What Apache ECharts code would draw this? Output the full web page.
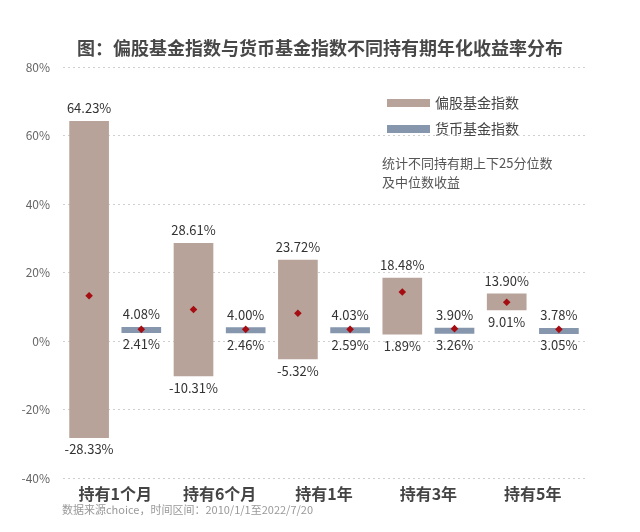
<!DOCTYPE html>
<html>
<head>
<meta charset="utf-8">
<script src="https://cdn.jsdelivr.net/npm/echarts@6/dist/echarts.min.js"></script>
<style>
  html, body { margin: 0; padding: 0; background: #fff; }
  #main { width: 640px; height: 532px; }
</style>
</head>
<body>
<div id="main"></div>
<script>
var categories = ['持有1个月', '持有6个月', '持有1年', '持有3年', '持有5年'];
// 上下25分位数 + 中位数
var equityLow = [-28.33, -10.31, -5.32, 1.89, 9.01];
var equityHigh = [64.23, 28.61, 23.72, 18.48, 13.90];
var equityMedian = [13.2, 9.2, 8.1, 14.3, 11.3];
var moneyLow = [2.41, 2.46, 2.59, 3.26, 3.05];
var moneyHigh = [4.08, 4.00, 4.03, 3.90, 3.78];
var moneyMedian = [3.4, 3.4, 3.4, 3.6, 3.4];
var yTicks = { min: -40, max: 80, interval: 20 };

var baseFont = 'Noto Sans CJK SC';
var labelStyle = {
  fill: '#333',
  fontSize: 13,
  fontFamily: baseFont
};

// 区间柱 + 中位数菱形 + 上下标签
function rangeRender(offset, color, minH) {
  return function(params, api) {
    var idx = api.value(0);
    var lo = api.coord([idx, api.value(1)]);
    var hi = api.coord([idx, api.value(2)]);
    var mid = api.coord([idx, api.value(3)]);
    var band = api.size([1, 0])[0];
    var w = band * 0.38;
    var cx = lo[0] + offset * band;
    var top = hi[1];
    var h = Math.max(lo[1] - hi[1], minH);
    var d = 3.8;
    return {
      type: 'group',
      children: [{
        type: 'rect',
        shape: { x: cx - w / 2, y: top, width: w, height: h },
        style: { fill: color }
      }, {
        type: 'polygon',
        shape: { points: [[cx, mid[1] - d], [cx + d, mid[1]], [cx, mid[1] + d], [cx - d, mid[1]]] },
        style: { fill: '#a50d12' }
      }, {
        type: 'text',
        style: Object.assign({
          text: api.value(2).toFixed(2) + '%',
          x: cx, y: top - 6, align: 'center', verticalAlign: 'bottom'
        }, labelStyle)
      }, {
        type: 'text',
        style: Object.assign({
          text: api.value(1).toFixed(2) + '%',
          x: cx, y: top + h + 5, align: 'center', verticalAlign: 'top'
        }, labelStyle)
      }]
    };
  };
}

function buildData(lo, hi, md) {
  return categories.map(function(c, i) { return [i, lo[i], hi[i], md[i]]; });
}

var option_chart = {
  animation: false,
  backgroundColor: '#fff',
  title: {
    text: '图：偏股基金指数与货币基金指数不同持有期年化收益率分布',
    left: 'center',
    top: 34,
    textStyle: { color: '#484848', fontSize: 18, fontWeight: 'bold', fontFamily: baseFont }
  },
  legend: {
    orient: 'vertical',
    left: 382,
    top: 91,
    itemWidth: 43,
    itemHeight: 8,
    itemGap: 12,
    icon: 'rect',
    textStyle: { color: '#444', fontSize: 14, fontFamily: baseFont },
    data: ['偏股基金指数', '货币基金指数']
  },
  grid: { left: 63, right: 55, top: 67, bottom: 54 },
  xAxis: {
    type: 'category',
    data: categories,
    axisLine: { show: false },
    axisTick: { show: false },
    axisLabel: { color: '#444', fontSize: 16, fontWeight: 'bold', fontFamily: baseFont, margin: 8 }
  },
  yAxis: {
    type: 'value',
    min: yTicks.min,
    max: yTicks.max,
    interval: yTicks.interval,
    axisLine: { show: false },
    axisTick: { show: false },
    axisLabel: { formatter: '{value}%', color: '#666', fontSize: 12, fontFamily: baseFont, margin: 13 },
    splitLine: { lineStyle: { color: '#d0d0d0', type: [2, 3] } }
  },
  graphic: [{
    type: 'text',
    left: 382,
    top: 154,
    style: {
      text: '统计不同持有期上下25分位数\n及中位数收益',
      fill: '#555',
      fontSize: 13,
      lineHeight: 19,
      fontFamily: baseFont
    }
  }, {
    type: 'text',
    left: 62,
    top: 504,
    style: {
      text: '数据来源choice，时间区间：2010/1/1至2022/7/20',
      fill: '#999',
      fontSize: 11,
      fontFamily: baseFont
    }
  }],
  series: [{
    name: '偏股基金指数',
    type: 'custom',
    itemStyle: { color: '#b7a399' },
    renderItem: rangeRender(-0.25, '#b7a399', 0),
    encode: { x: 0, y: [1, 2] },
    data: buildData(equityLow, equityHigh, equityMedian)
  }, {
    name: '货币基金指数',
    type: 'custom',
    itemStyle: { color: '#8596ad' },
    renderItem: rangeRender(0.25, '#8596ad', 6),
    encode: { x: 0, y: [1, 2] },
    data: buildData(moneyLow, moneyHigh, moneyMedian)
  }]
};

var chart = echarts.init(document.getElementById('main'));
chart.setOption(option_chart);
</script>
</body>
</html>
